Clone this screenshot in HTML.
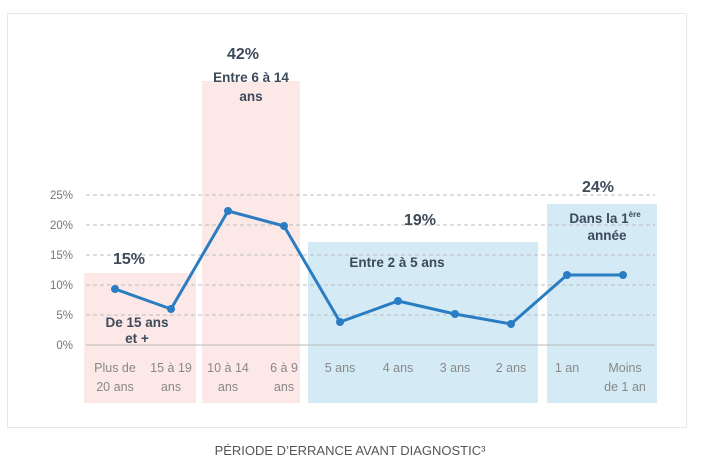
<!DOCTYPE html>
<html><head><meta charset="utf-8"><style>
body{margin:0;background:#fff;width:705px;height:469px;overflow:hidden}
svg{display:block;font-family:"Liberation Sans",sans-serif}
</style></head><body>
<svg width="705" height="469" viewBox="0 0 705 469">
<rect x="7.5" y="13.5" width="679" height="414" fill="#fff" stroke="#e6e8f0" stroke-width="1"/>
<rect x="84" y="273" width="112" height="130" fill="#fde8e8"/>
<rect x="202" y="81" width="98" height="322" fill="#fde8e8"/>
<rect x="308" y="242" width="230" height="161" fill="#d4ebf6"/>
<rect x="547" y="204" width="110" height="199" fill="#d4ebf6"/>
<g stroke="#bdbdbd" stroke-dasharray="4,3" stroke-width="1">
<line x1="86" y1="195" x2="655" y2="195"/><line x1="86" y1="225" x2="655" y2="225"/>
<line x1="86" y1="255" x2="655" y2="255"/><line x1="86" y1="285" x2="655" y2="285"/>
<line x1="86" y1="315" x2="655" y2="315"/>
</g>
<line x1="86" y1="345" x2="655" y2="345" stroke="#b8b8b8"/>
<g fill="#777" font-size="11.5" text-anchor="end">
<text x="73" y="199">25%</text><text x="73" y="229">20%</text><text x="73" y="259">15%</text>
<text x="73" y="289">10%</text><text x="73" y="319">5%</text><text x="73" y="349">0%</text>
</g>
<polyline fill="none" stroke="#2a7dc2" stroke-width="3" stroke-linejoin="round" points="115,289 171,309 228,211 284,226 340,322 398,301 455,314 511,324 567,275 623,275"/>
<g fill="#2a7dc2">
<circle cx="115" cy="289" r="4"/><circle cx="171" cy="309" r="4"/><circle cx="228" cy="211" r="4"/>
<circle cx="284" cy="226" r="4"/><circle cx="340" cy="322" r="4"/><circle cx="398" cy="301" r="4"/>
<circle cx="455" cy="314" r="4"/><circle cx="511" cy="324" r="4"/><circle cx="567" cy="275" r="4"/>
<circle cx="623" cy="275" r="4"/>
</g>
<g fill="#888" font-size="12.5" text-anchor="middle">
<text x="115" y="372">Plus de</text><text x="115" y="391">20 ans</text>
<text x="171" y="372">15 à 19</text><text x="171" y="391">ans</text>
<text x="228" y="372">10 à 14</text><text x="228" y="391">ans</text>
<text x="284" y="372">6 à 9</text><text x="284" y="391">ans</text>
<text x="340" y="372">5 ans</text><text x="398" y="372">4 ans</text>
<text x="455" y="372">3 ans</text><text x="511" y="372">2 ans</text>
<text x="567" y="372">1 an</text>
<text x="625" y="372">Moins</text><text x="625" y="391">de 1 an</text>
</g>
<g fill="#3c4a5a" font-weight="bold" text-anchor="middle">
<text x="243" y="59" font-size="16">42%</text>
<text x="251" y="82" font-size="13.5">Entre 6 à 14</text><text x="251" y="101" font-size="13.5">ans</text>
<text x="129" y="264" font-size="16">15%</text>
<text x="137" y="327" font-size="13.5">De 15 ans</text><text x="137" y="343" font-size="13.5">et +</text>
<text x="420" y="225" font-size="16">19%</text>
<text x="397" y="267" font-size="13.5">Entre 2 à 5 ans</text>
<text x="598" y="192" font-size="16">24%</text>
<text x="605" y="223" font-size="13.5">Dans la 1<tspan font-size="8" dy="-6">ère</tspan></text>
<text x="607" y="240" font-size="13.5">année</text>
</g>
<text x="350" y="455" font-size="13" fill="#555" text-anchor="middle">PÉRIODE D’ERRANCE AVANT DIAGNOSTIC³</text>
</svg>
</body></html>
